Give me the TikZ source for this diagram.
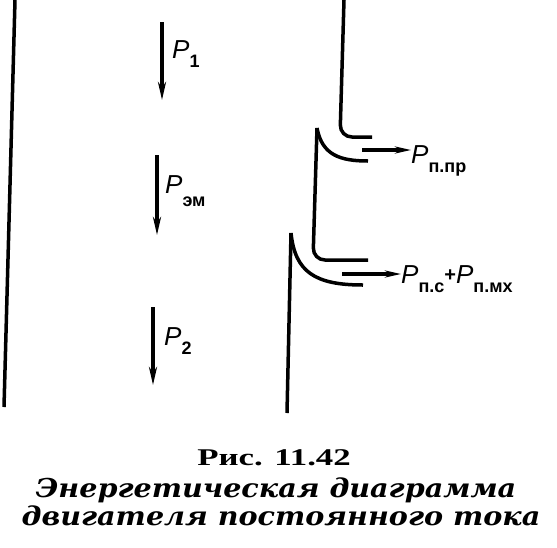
\documentclass[tikz,border=0pt]{standalone}
\usepackage{fontspec}
\setmainfont{Liberation Serif}
\setsansfont{Liberation Sans}
\newfontfamily\capfont[FakeStretch=1.1]{DejaVu Serif}
\newfontfamily\figfont[FakeStretch=1.45]{Liberation Serif}
\usetikzlibrary{arrows.meta}
\newcommand{\psub}[1]{\raisebox{-9pt}{\fontsize{18}{18}\bfseries\selectfont #1}}
\newcommand{\pwr}[1]{{\itshape P}\psub{#1}}
\begin{document}
\begin{tikzpicture}[x=1pt,y=-1pt,
    bound/.style={line width=3.5pt},
    flow/.style={line width=3.5pt,-{Stealth[length=18pt,width=8pt]}},
    loss/.style={line width=3.5pt,-{Stealth[length=16pt,width=7pt]}},
    plabel/.style={inner sep=0pt,anchor=base west,font=\sffamily\fontsize{26}{26}\selectfont}]
    \useasboundingbox (0,0) rectangle (557,547);
    % flow boundaries
    \draw[bound] (15,0) -- (4,407);
    \draw[bound,rounded corners=12pt] (344,0) -- (340,137) -- (372,137);
    \draw[bound,rounded corners=12pt] (317,128) -- (313,260) -- (368,260);
    \draw[bound] (317,128) .. controls (322,155) and (340,161) .. (368,161);
    \draw[bound] (291,233) -- (287,413);
    \draw[bound] (291,233) .. controls (295,272) and (315,285) .. (363,285);
    % power arrows
    \coordinate (p1s) at (162,22);
    \coordinate (p1e) at (162,100);
    \coordinate (pems) at (157,155);
    \coordinate (peme) at (157,235);
    \coordinate (p2s) at (153,307);
    \coordinate (p2e) at (153,385);
    \draw[flow] (p1s) -- (p1e);
    \draw[flow] (pems) -- (peme);
    \draw[flow] (p2s) -- (p2e);
    \node[plabel] (p1) at (172,58) {\pwr{1}};
    \node[plabel] (pem) at (165,193) {{\itshape P}\raisebox{-4pt}{\psub{эм}}};
    \node[plabel] (p2) at (164,345) {\pwr{2}};
    % losses
    \node[plabel] (lpr) at (411,163) {\pwr{п.пр}};
    \node[plabel] (lsm) at (401,283) {\pwr{п.с}\raisebox{2pt}{\fontsize{20}{20}\bfseries\selectfont+}\pwr{п.мх}};
    \coordinate (lpra) at (362,150);
    \coordinate (lsma) at (342,274);
    \draw[loss] (lpra) -- (lpra -| lpr.west);
    \draw[loss] (lsma) -- (lsma -| lsm.west);
    % caption
    \node[inner sep=0pt,anchor=base] (fig) at (274,465)
        {\figfont\bfseries\fontsize{24}{24}\selectfont Рис. 11.42};
    \node[inner sep=0pt,anchor=base] (cap1) at (276,497)
        {\capfont\bfseries\itshape\fontsize{26}{26}\selectfont Энергетическая диаграмма};
    \node[inner sep=0pt,anchor=base] (cap2) at (281,525)
        {\capfont\bfseries\itshape\fontsize{26}{26}\selectfont двигателя постоянного тока};
\end{tikzpicture}
\end{document}
